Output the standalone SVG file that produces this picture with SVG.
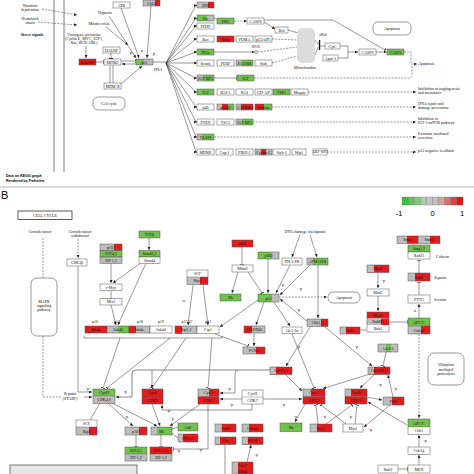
<svg xmlns="http://www.w3.org/2000/svg" width="474" height="474" viewBox="0 0 474 474">
<style>
.g{fill:#72c04e}.r{fill:#e41a1c}.y{fill:#bdbdbd}.w{fill:#fff}
.o{fill:none;stroke:#555;stroke-width:0.5}
.t{font-family:"Liberation Serif",serif;font-size:4px;text-anchor:middle;fill:#111}
.s{font-family:"Liberation Serif",serif;font-size:4px;fill:#111}
.e{fill:none;stroke:#333;stroke-width:0.5}
.d{stroke-dasharray:2,1.2}
.rb{fill:#fff;stroke:#555;stroke-width:0.6}
</style>
<defs>
<marker id="a" viewBox="0 0 6 6" refX="6" refY="3" markerWidth="3" markerHeight="3" orient="auto" markerUnits="userSpaceOnUse"><path d="M0,0L6,3L0,6z" fill="#222"/></marker>
<marker id="b" viewBox="0 0 2 8" refX="1" refY="4" markerWidth="1" markerHeight="4" orient="auto" markerUnits="userSpaceOnUse"><path d="M1,0V8" stroke="#222" stroke-width="2"/></marker>
</defs>
<rect width="474" height="474" fill="#fff"/>

<!-- ============ PANEL A ============ -->
<g id="frameA">
<line x1="54" y1="0" x2="54" y2="172" stroke="#444" stroke-width="0.7"/>
<line x1="64" y1="0" x2="64" y2="172" stroke="#444" stroke-width="0.7"/>
<line x1="0" y1="187" x2="474" y2="187" stroke="#999" stroke-width="0.7"/>
<text x="30" y="7" class="t">Nutrition</text><text x="30" y="11" class="t">deprivation</text>
<text x="30" y="20" class="t">Heatshock</text><text x="30" y="24" class="t">shock</text>
<text x="32" y="36" class="t" font-weight="bold">Stress signals</text>
<text x="105" y="14" class="t">Hypoxia</text>
<text x="99" y="25" class="t">Mitotic crisis</text>
<text x="84" y="36" class="t">Oncogene activation</text><text x="84" y="40" class="t">(Cyclin E, MYC, E2F1,</text><text x="84" y="44" class="t">Ras, BCR-ABL)</text>
<text x="158" y="71" class="t">DNA</text>
<text x="6" y="177" font-family="Liberation Sans,sans-serif" font-size="3.6" font-weight="bold">Data on KEGG graph</text>
<text x="6" y="181.5" font-family="Liberation Sans,sans-serif" font-size="3.6" font-weight="bold">Rendered by Pathview</text>
<text x="305" y="69" class="t">Mitochondria</text>
<text x="323" y="36" class="t">tBid</text>
<text x="256" y="48" class="t">ROS</text>
<text x="418" y="65" class="s">Apoptosis</text>
<text x="418" y="90" class="s">Inhibition of angiogenesis</text><text x="418" y="94" class="s">and metastasis</text>
<text x="418" y="105" class="s">DNA repair and</text><text x="418" y="109" class="s">damage prevention</text>
<text x="418" y="120" class="s">Inhibition of</text><text x="418" y="124" class="s">IGF-1/mTOR pathway</text>
<text x="418" y="135" class="s">Exosome mediated</text><text x="418" y="139" class="s">secretion</text>
<text x="418" y="152" class="s">p53 negative feedback</text>
<text x="130" y="54" class="t">+p</text><text x="141" y="52" class="t">+p</text><text x="153" y="55" class="t">+p</text>
</g>

<g id="connA">
<path class="e d" d="M42,9L77,15" marker-end="url(#a)"/>
<path class="e d" d="M38,22L77,25" marker-end="url(#a)"/>
<path class="e" d="M109,16L136,58" marker-end="url(#a)"/>
<path class="e" d="M106,27L128,45" marker-end="url(#a)"/>
<path class="e" d="M121,8L139,58" marker-end="url(#a)"/>
<path class="e" d="M151,6L147,58" marker-end="url(#a)"/>
<path class="e" d="M86,46V58" marker-end="url(#a)"/>
<path class="e" d="M96,62H103" marker-end="url(#b)"/>
<path class="e" d="M121,61H135" marker-end="url(#b)"/>
<path class="e" d="M136,64H122" marker-end="url(#a)"/>
<path class="e" d="M111,53V58.5" marker-end="url(#b)"/>
<path class="e" d="M110,83V65.5M113,83V65.5"/>
<path class="e" d="M121,84L142,66" marker-end="url(#a)"/>
<path class="e" d="M153,62H166"/>
<path class="e" d="M166,63L196,5M166,63L196,18M166,63L196,26M166,63L196,39M166,63L196,52M166,63L196,63M166,63L196,78M166,63L196,92M166,63L196,107M166,63L196,122M166,63L196,137M166,63L196,152" />
<g marker-end="url(#a)">
<path class="e" d="M195,5.5H197"/><path class="e" d="M195,18.3H197"/><path class="e" d="M195,26H197"/><path class="e" d="M195,39H197"/><path class="e" d="M195,52H197"/><path class="e" d="M195,63H197"/><path class="e" d="M195,78H197"/><path class="e" d="M195,92H197"/><path class="e" d="M195,107H197"/><path class="e" d="M195,122H197"/><path class="e" d="M195,137H197"/><path class="e" d="M195,152H197"/>
</g>
<path class="e" d="M214,18L217,20"/>
<path class="e d" d="M234,21H247" marker-end="url(#a)"/>
<path class="e" d="M264,20H333L385,50" marker-end="url(#b)"/>
<path class="e" d="M264,22L275,29" marker-end="url(#a)"/>
<path class="e" d="M288,30L298,33"/>
<path class="e d" d="M272,39L297,40"/>
<path class="e" d="M214,52H254.5" marker-end="url(#a)"/>
<path class="e d" d="M257.5,52L297,47"/>
<path class="e d" d="M272,63L297,56"/>
<path class="e" d="M315,40L318,44M315,55L318,47"/>
<path d="M319.5,40V50" stroke="#111" stroke-width="1.4"/>
<path class="e" d="M320,46H325"/>
<path class="e" d="M340,46H348V52H358" marker-end="url(#a)"/>
<path class="e" d="M338,58H348V52"/>
<path class="e" d="M376,52H386.5" marker-end="url(#a)"/>
<path class="e d" d="M404,52H411V64H417" marker-end="url(#a)"/>
<path class="e d" d="M254,78H409Q412,78 412,74V65"/>
<path class="e" d="M214,78H236" marker-end="url(#b)"/>
<path class="e d" d="M308,92H416" marker-end="url(#a)"/>
<path class="e d" d="M272,107H416" marker-end="url(#a)"/>
<path class="e d" d="M253,122H416" marker-end="url(#a)"/>
<path class="e d" d="M214,137H416" marker-end="url(#a)"/>
<path class="e d" d="M327,152H416" marker-end="url(#a)"/>
</g>

<g id="mito"><rect x="297" y="28" width="18" height="35" rx="5" fill="#dcdcdc"/></g>
<g id="n-chk2"><rect x="143" y="0" width="17" height="6" class="y"/><rect x="155" y="0" width="5" height="6" class="r"/><rect x="143" y="0" width="17" height="6" class="o"/><text x="151.5" y="4.5" class="t">Chk2</text></g>
<g id="n-atr"><rect x="113" y="2" width="17" height="6" class="w"/><rect x="113" y="2" width="17" height="6" class="o"/><text x="121.5" y="6.5" class="t">ATR</text></g>
<g id="n-hausp"><rect x="103" y="47" width="17" height="6" class="w"/><rect x="103" y="47" width="17" height="6" class="o"/><text x="111.5" y="51.5" class="t">HAUSP</text></g>
<g id="n-p14arf"><rect x="79" y="59" width="17" height="6" class="r"/><rect x="79" y="59" width="17" height="6" class="o"/><text x="87.5" y="63.5" class="t">p14ARF</text></g>
<g id="n-mdm2"><rect x="104" y="59" width="17" height="6" class="w"/><rect x="104" y="59" width="17" height="6" class="o"/><text x="112.5" y="63.5" class="t">MDM2</text></g>
<g id="n-p53"><rect x="136" y="59" width="17" height="6" class="y"/><rect x="136" y="59" width="8" height="6" class="g"/><rect x="136" y="59" width="17" height="6" class="o"/><text x="144.5" y="63.5" class="t">p53</text></g>
<g id="n-mdmx"><rect x="104" y="83" width="17" height="6" class="w"/><rect x="104" y="83" width="17" height="6" class="o"/><text x="112.5" y="87.5" class="t">MDM-X</text></g>
<g id="n-cellcycleA"><rect x="93" y="97" width="32" height="13" rx="5" class="rb"/><text x="109" y="105" class="t">Cell cycle</text></g>
<g id="n-apoptosisA"><rect x="373" y="22" width="38" height="13" rx="5" class="rb"/><text x="392" y="30" class="t">Apoptosis</text></g>

<g id="n-b99"><rect x="197" y="2" width="17" height="6" class="y"/><rect x="208" y="2" width="6" height="6" class="r"/><rect x="197" y="2" width="17" height="6" class="o"/><text x="205.5" y="6.5" class="t">B99</text></g>
<g id="n-fas"><rect x="197" y="15" width="17" height="6" class="y"/><rect x="197" y="15" width="10" height="6" class="g"/><rect x="197" y="15" width="17" height="6" class="o"/><text x="205.5" y="19.5" class="t">Fas</text></g>
<g id="n-pidd"><rect x="197" y="23" width="17" height="6" class="w"/><rect x="197" y="23" width="17" height="6" class="o"/><text x="205.5" y="27.5" class="t">PIDD</text></g>
<g id="n-dr5"><rect x="217" y="18" width="17" height="6" class="g"/><rect x="217" y="18" width="17" height="6" class="o"/><text x="225.5" y="22.5" class="t">DR5</text></g>
<g id="n-casp8"><rect x="247" y="18" width="17" height="6" class="w"/><rect x="247" y="18" width="17" height="6" class="o"/><text x="255.5" y="22.5" class="t">CASP8</text></g>
<g id="n-bid"><rect x="275" y="27" width="13" height="6" class="w"/><rect x="275" y="27" width="13" height="6" class="o"/><text x="281.5" y="31.5" class="t">Bid</text></g>
<g id="n-bax"><rect x="197" y="36" width="17" height="6" class="w"/><rect x="197" y="36" width="17" height="6" class="o"/><text x="205.5" y="40.5" class="t">Bax</text></g>
<g id="n-noxa"><rect x="217" y="36" width="17" height="6" class="r"/><rect x="217" y="36" width="17" height="6" class="o"/><text x="225.5" y="40.5" class="t">Noxa</text></g>
<g id="n-puma"><rect x="236" y="36" width="17" height="6" class="w"/><rect x="236" y="36" width="17" height="6" class="o"/><text x="244.5" y="40.5" class="t">PUMA</text></g>
<g id="n-p53aip1"><rect x="255" y="36" width="17" height="6" class="w"/><rect x="255" y="36" width="17" height="6" class="o"/><text x="263.5" y="40.5" class="t">p53AIP1</text></g>
<g id="n-pigs"><rect x="197" y="49" width="17" height="6" class="g"/><rect x="197" y="49" width="17" height="6" class="o"/><text x="205.5" y="53.5" class="t">PIGs</text></g>
<g id="n-ros"><circle cx="256" cy="52" r="1.5" fill="#fff" stroke="#333" stroke-width="0.5"/></g>
<g id="n-scotin"><rect x="197" y="60" width="17" height="6" class="w"/><rect x="197" y="60" width="17" height="6" class="o"/><text x="205.5" y="64.5" class="t">Scotin</text></g>
<g id="n-perp"><rect x="217" y="60" width="17" height="6" class="w"/><rect x="217" y="60" width="17" height="6" class="o"/><text x="225.5" y="64.5" class="t">PERP</text></g>
<g id="n-pag608"><rect x="236" y="60" width="17" height="6" class="g"/><rect x="236" y="60" width="6" height="6" class="y"/><rect x="236" y="60" width="17" height="6" class="o"/><text x="244.5" y="64.5" class="t">PAG608</text></g>
<g id="n-siah"><rect x="255" y="60" width="17" height="6" class="w"/><rect x="255" y="60" width="17" height="6" class="o"/><text x="263.5" y="64.5" class="t">Siah</text></g>
<g id="n-igfbp3"><rect x="197" y="75" width="17" height="6" class="g"/><rect x="197" y="75" width="6" height="6" class="y"/><rect x="197" y="75" width="17" height="6" class="o"/><text x="205.5" y="79.5" class="t">IGF-BP3</text></g>
<g id="n-igf"><rect x="237" y="75" width="17" height="6" class="g"/><rect x="237" y="75" width="17" height="6" class="o"/><text x="245.5" y="79.5" class="t">IGF</text></g>
<g id="n-pai"><rect x="197" y="89" width="17" height="6" class="g"/><rect x="197" y="89" width="17" height="6" class="o"/><text x="205.5" y="93.5" class="t">PAI</text></g>
<g id="n-bai1"><rect x="217" y="89" width="17" height="6" class="w"/><rect x="217" y="89" width="17" height="6" class="o"/><text x="225.5" y="93.5" class="t">BAI-1</text></g>
<g id="n-kai"><rect x="236" y="89" width="17" height="6" class="w"/><rect x="236" y="89" width="17" height="6" class="o"/><text x="244.5" y="93.5" class="t">KAI</text></g>
<g id="n-gdaif"><rect x="255" y="89" width="17" height="6" class="w"/><rect x="255" y="89" width="17" height="6" class="o"/><text x="263.5" y="93.5" class="t">GD-AiF</text></g>
<g id="n-tsp1"><rect x="273" y="89" width="17" height="6" class="g"/><rect x="273" y="89" width="17" height="6" class="o"/><text x="281.5" y="93.5" class="t">TSP1</text></g>
<g id="n-maspin"><rect x="291" y="89" width="17" height="6" class="w"/><rect x="291" y="89" width="17" height="6" class="o"/><text x="299.5" y="93.5" class="t">Maspin</text></g>
<g id="n-p48"><rect x="197" y="104" width="17" height="6" class="w"/><rect x="197" y="104" width="17" height="6" class="o"/><text x="205.5" y="108.5" class="t">p48</text></g>
<g id="n-p53r2"><rect x="217" y="104" width="17" height="6" class="y"/><rect x="222" y="104" width="6" height="6" class="r"/><rect x="228" y="104" width="6" height="6" class="g"/><rect x="217" y="104" width="17" height="6" class="o"/><text x="225.5" y="108.5" class="t">p53R2</text></g>
<g id="n-gadd45a"><rect x="236" y="104" width="17" height="6" class="r"/><rect x="236" y="104" width="5" height="6" class="y"/><rect x="236" y="104" width="17" height="6" class="o"/><text x="244.5" y="108.5" class="t">GADD45</text></g>
<g id="n-xpc"><rect x="255" y="104" width="17" height="6" class="g"/><rect x="255" y="104" width="9" height="6" class="r"/><rect x="255" y="104" width="17" height="6" class="o"/><text x="263.5" y="108.5" class="t">Sestrins</text></g>
<g id="n-pten"><rect x="197" y="119" width="17" height="6" class="w"/><rect x="197" y="119" width="17" height="6" class="o"/><text x="205.5" y="123.5" class="t">PTEN</text></g>
<g id="n-tsc2"><rect x="217" y="119" width="17" height="6" class="w"/><rect x="217" y="119" width="17" height="6" class="o"/><text x="225.5" y="123.5" class="t">TSC2</text></g>
<g id="n-igfbp3b"><rect x="236" y="119" width="17" height="6" class="g"/><rect x="236" y="119" width="6" height="6" class="y"/><rect x="236" y="119" width="17" height="6" class="o"/><text x="244.5" y="123.5" class="t">IGF-BP3</text></g>
<g id="n-tsap6"><rect x="197" y="134" width="17" height="6" class="g"/><rect x="197" y="134" width="5" height="6" class="y"/><rect x="197" y="134" width="17" height="6" class="o"/><text x="205.5" y="138.5" class="t">TSAP6</text></g>
<g id="n-mdm2b"><rect x="197" y="149" width="17" height="6" class="w"/><rect x="197" y="149" width="17" height="6" class="o"/><text x="205.5" y="153.5" class="t">MDM2</text></g>
<g id="n-cop1"><rect x="216" y="149" width="17" height="6" class="w"/><rect x="216" y="149" width="17" height="6" class="o"/><text x="224.5" y="153.5" class="t">Cop-1</text></g>
<g id="n-pirh2"><rect x="236" y="149" width="17" height="6" class="w"/><rect x="236" y="149" width="17" height="6" class="o"/><text x="244.5" y="153.5" class="t">PIRH-2</text></g>
<g id="n-cycg"><rect x="255" y="149" width="17" height="6" class="y"/><rect x="261" y="149" width="5" height="6" class="r"/><rect x="255" y="149" width="17" height="6" class="o"/><text x="263.5" y="153.5" class="t">Cyclin G</text></g>
<g id="n-siah1"><rect x="273" y="149" width="17" height="6" class="w"/><rect x="273" y="149" width="17" height="6" class="o"/><text x="281.5" y="153.5" class="t">Siah-1</text></g>
<g id="n-wip1"><rect x="292" y="149" width="14" height="6" class="w"/><rect x="292" y="149" width="14" height="6" class="o"/><text x="299" y="153.5" class="t">Wip1</text></g>
<g id="n-arfbp1"><rect x="313" y="149" width="14" height="6" class="w"/><rect x="313" y="149" width="14" height="6" class="o"/><text x="320" y="153.3" class="t" font-size="3.4">ARF-BP1</text></g>
<g id="n-cytc"><rect x="325" y="43" width="15" height="6" class="w"/><rect x="325" y="43" width="15" height="6" class="o"/><text x="332.5" y="47.5" class="t">CytC</text></g>
<g id="n-apaf1"><rect x="323" y="55" width="15" height="6" class="w"/><rect x="323" y="55" width="15" height="6" class="o"/><text x="330.5" y="59.5" class="t">Apaf-1</text></g>
<g id="n-casp9"><rect x="359" y="49" width="17" height="6" class="w"/><rect x="359" y="49" width="17" height="6" class="o"/><text x="367.5" y="53.5" class="t">CASP9</text></g>
<g id="n-casp3"><rect x="387" y="49" width="17" height="6" class="g"/><rect x="387" y="49" width="17" height="6" class="o"/><text x="395.5" y="53.5" class="t">CASP3</text></g>

<!-- ============ PANEL B ============ -->
<g id="frameB">
<text x="1" y="199" font-family="Liberation Sans,sans-serif" font-size="11">B</text>
<g id="n-cellcyclebox"><rect x="18" y="211" width="54" height="8.5" fill="#fff" stroke="#333" stroke-width="0.8"/><text x="45" y="217.3" class="t" font-size="5">CELL CYCLE</text></g>
<g id="colorbar" stroke="#666" stroke-width="0.3">
<rect x="402" y="197" width="6.1" height="8" fill="#3fbf3f"/><rect x="408.1" y="197" width="6.1" height="8" fill="#5cc45c"/><rect x="414.2" y="197" width="6.1" height="8" fill="#7dc87d"/><rect x="420.3" y="197" width="6.1" height="8" fill="#a6cfa6"/><rect x="426.4" y="197" width="6.1" height="8" fill="#c4c4c4"/><rect x="432.5" y="197" width="6.1" height="8" fill="#bfbfbf"/><rect x="438.6" y="197" width="6.1" height="8" fill="#d5a3a3"/><rect x="444.7" y="197" width="6.1" height="8" fill="#dc7070"/><rect x="450.8" y="197" width="6.1" height="8" fill="#e34242"/><rect x="456.9" y="197" width="6.1" height="8" fill="#e81515"/>
</g>
<text x="399" y="216" font-family="Liberation Sans,sans-serif" font-size="7.5" text-anchor="middle">-1</text>
<text x="432.5" y="216" font-family="Liberation Sans,sans-serif" font-size="7.5" text-anchor="middle">0</text>
<text x="462" y="216" font-family="Liberation Sans,sans-serif" font-size="7.5" text-anchor="middle">1</text>
<text x="40" y="233" class="t">Growth factor</text>
<text x="80" y="233" class="t">Growth factor</text><text x="80" y="237" class="t">withdrawal</text>
<text x="305" y="233" class="t">DNA damage checkpoint</text>
<text x="70" y="395" class="t">R-point</text><text x="70" y="399.5" class="t">(START)</text>
<text x="95" y="323" class="t">p16</text><text x="117" y="323" class="t">p15</text><text x="140" y="323" class="t">p18</text><text x="161" y="323" class="t">p19</text>
<text x="187" y="323" class="t">p27,57</text><text x="208" y="323" class="t">p21</text>
<text x="436" y="257.5" class="s">Cohesin</text>
<text x="434" y="279" class="s">Separin</text>
<text x="434" y="301" class="s">Securin</text>
<g class="t">
<text x="87" y="390">+p</text><text x="183" y="302">+u</text><text x="282" y="286">+p</text><text x="300" y="290">+p</text><text x="298" y="311">+p</text>
<text x="383" y="282">+p</text><text x="414" y="312">+u</text><text x="298" y="348">+p</text><text x="356" y="348">+p</text>
<text x="229" y="390">-p</text><text x="125" y="393">-p</text><text x="231" y="406">+p</text><text x="283" y="406">+p</text>
<text x="126" y="418">+p</text><text x="168" y="412">+p</text><text x="172" y="420">+p</text><text x="295" y="418">+p</text>
<text x="324" y="418">+p</text><text x="350" y="418">+p</text><text x="370" y="431">+p</text><text x="380" y="386">-p</text><text x="395" y="390">+p</text>
<text x="425" y="442">-p</text><text x="178" y="452">+p</text><text x="256" y="456">+p</text><text x="200" y="451">+p</text>
</g>
</g>

<g id="connB">
<path class="e d" d="M43,238V278"/>
<path class="e d" d="M43,336V397H62"/>
<path class="e" d="M84,397H92" marker-end="url(#a)"/>
<path class="e d" d="M78,239V258" marker-end="url(#a)"/>
<path class="e" d="M78,266V392H92" marker-end="url(#a)"/>
<path class="e" d="M149,238V250" marker-end="url(#a)"/>
<path class="e" d="M142,262L113,283" marker-end="url(#a)"/>
<path class="e" d="M146,263L118,325" marker-end="url(#a)"/>
<path class="e" d="M111,264V283" marker-end="url(#a)"/>
<path class="e" d="M111,290V298" marker-end="url(#b)"/>
<path class="e" d="M111,305L116,325" marker-end="url(#a)"/>
<path class="e" d="M84,336V338H222V336"/>
<path class="e" d="M120,338L103,388" marker-end="url(#b)"/>
<path class="e" d="M170,338L107,388" marker-end="url(#b)"/>
<path class="e" d="M186,338L152,388" marker-end="url(#b)"/>
<path class="e" d="M212,338L208,388" marker-end="url(#b)"/>
<path class="e" d="M193,285L188,325" marker-end="url(#a)"/>
<path class="e" d="M203,285L208,325" marker-end="url(#a)"/>
<path class="e" d="M258,300L220,327" marker-end="url(#a)"/>
<path class="e" d="M242,247V264" marker-end="url(#b)"/>
<path class="e" d="M238,272L232,293" marker-end="url(#a)"/>
<path class="e" d="M248,272L262,293" marker-end="url(#b)"/>
<path class="e" d="M268,259V293" marker-end="url(#a)"/>
<path class="e" d="M290,265L276,293" marker-end="url(#a)"/>
<path class="e" d="M310,265L280,295" marker-end="url(#a)"/>
<path class="e" d="M307,321L280,299" marker-end="url(#a)"/>
<path class="e" d="M318,265V318" marker-end="url(#a)"/>
<path class="e" d="M300,235L292,257" marker-end="url(#a)"/>
<path class="e" d="M310,235L317,257" marker-end="url(#a)"/>
<path class="e d" d="M279,297H327" marker-end="url(#a)"/>
<path class="e" d="M264,302L256,325" marker-end="url(#a)"/>
<path class="e" d="M274,302L290,326" marker-end="url(#a)"/>
<path class="e" d="M310,327L286,366" marker-end="url(#a)"/>
<path class="e" d="M325,327L372,366" marker-end="url(#a)"/>
<path class="e" d="M254,333V346" marker-end="url(#a)"/>
<path class="e" d="M292,334L314,388" marker-end="url(#b)"/>
<path class="e" d="M386,352L383,366" marker-end="url(#b)"/>
<path class="e" d="M375,374L360,388" marker-end="url(#a)"/>
<path class="e" d="M370,374L323,388.5" marker-end="url(#a)"/>
<path class="e" d="M393,397L388,375" marker-end="url(#a)"/>
<path class="e" d="M367,397L382,400" marker-end="url(#a)"/>
<path d="M270,370H136Q132,370 132,374V397H116" fill="none" stroke="#777" stroke-width="0.9" marker-end="url(#a)"/>
<path class="e" d="M238,370Q235,370 235,374V393H220" marker-end="url(#a)"/>
<path class="e" d="M152,370V388" marker-end="url(#a)"/>
<path class="e" d="M285,374L302,391" marker-end="url(#a)"/>
<path class="e" d="M242,399H220" marker-end="url(#a)"/>
<path class="e" d="M263,399H302" marker-end="url(#a)"/>
<path class="e" d="M252,404V410H162V405" marker-end="url(#a)"/>
<path class="e" d="M108,403L133,426" marker-end="url(#a)"/>
<path class="e" d="M112,403L157,426" marker-end="url(#a)"/>
<path class="e" d="M152,404L160,426" marker-end="url(#a)"/>
<path class="e" d="M200,404L170,426" marker-end="url(#a)"/>
<path class="e" d="M100,403L90,420"/>
<path class="e" d="M136,435V446" marker-end="url(#b)"/>
<path class="e" d="M161,435V446" marker-end="url(#b)"/>
<path class="e" d="M172,429L178,427M172,433L178,438"/>
<path class="e" d="M208,404V449H173" marker-end="url(#b)"/>
<path class="e" d="M247,462L251,445" marker-end="url(#a)"/>
<path class="e" d="M225,444V474"/>
<path class="e" d="M215,334L248,346" marker-end="url(#b)"/>
<path class="e" d="M318,424L316,405" marker-end="url(#b)"/>
<path class="e" d="M326,424L352,405" marker-end="url(#b)"/>
<path class="e" d="M346,424L321,405" marker-end="url(#b)"/>
<path class="e" d="M355,424L357,405" marker-end="url(#b)"/>
<path class="e" d="M305,404L295,422" marker-end="url(#a)"/>
<path class="e" d="M407,425L368,402" marker-end="url(#a)"/>
<path class="e" d="M390,405L364,427" marker-end="url(#a)"/>
<path class="e" d="M419,447V435" marker-end="url(#a)"/>
<path class="e" d="M419,465V455" marker-end="url(#a)"/>
<path class="e" d="M398,469H407" marker-end="url(#b)"/>
<path class="e d" d="M419,334V418" marker-end="url(#a)"/>
<path class="e" d="M389,322H407" marker-end="url(#b)"/>
<path class="e" d="M360,330H366"/>
<path class="e" d="M378,273V288" marker-end="url(#a)"/>
<path class="e" d="M378,296V311" marker-end="url(#a)"/>
<path class="e" d="M419,318V304" marker-end="url(#a)"/>
<path class="e" d="M419,295V282" marker-end="url(#b)"/>
<path class="e" d="M419,273V260" marker-end="url(#b)"/>
</g>

<g id="n-mapk"><rect x="31" y="278" width="26" height="58" rx="6" class="rb"/><text x="44" y="303" class="t">MAPK</text><text x="44" y="307" class="t">signaling</text><text x="44" y="311" class="t">pathway</text></g>
<g id="n-gsk3b"><rect x="67" y="259" width="20" height="7" class="w"/><rect x="67" y="259" width="20" height="7" class="o"/><text x="77" y="264" class="t">GSK3β</text></g>
<g id="n-p107a"><rect x="100" y="244" width="22" height="6.5" class="y"/><rect x="114" y="244" width="8" height="6.5" class="r"/><rect x="100" y="244" width="22" height="6.5" class="o"/><text x="111" y="248.8" class="t">p107</text></g>
<g id="n-e2f45a"><rect x="100" y="250.5" width="22" height="6.5" class="g"/><rect x="100" y="250.5" width="22" height="6.5" class="o"/><text x="111" y="255.3" class="t">E2F4,5</text></g>
<g id="n-dp12a"><rect x="100" y="257" width="22" height="6.5" class="y"/><rect x="100" y="257" width="22" height="6.5" class="o"/><text x="111" y="261.8" class="t">DP-1,2</text></g>
<g id="n-tgfb"><rect x="139" y="231" width="21" height="7" class="g"/><rect x="139" y="231" width="21" height="7" class="o"/><text x="149.5" y="236" class="t">TGFβ</text></g>
<g id="n-smad23"><rect x="139" y="250.5" width="21" height="6.5" class="g"/><rect x="139" y="250.5" width="21" height="6.5" class="o"/><text x="149.5" y="255.3" class="t">Smad2,3</text></g>
<g id="n-smad4"><rect x="139" y="257" width="21" height="6.5" class="w"/><rect x="139" y="257" width="21" height="6.5" class="o"/><text x="149.5" y="261.8" class="t">Smad4</text></g>
<g id="n-cmyc"><rect x="100" y="284" width="22" height="6.5" class="w"/><rect x="100" y="284" width="22" height="6.5" class="o"/><text x="111" y="288.8" class="t">c-Myc</text></g>
<g id="n-miz1"><rect x="100" y="298.5" width="22" height="6.5" class="w"/><rect x="100" y="298.5" width="22" height="6.5" class="o"/><text x="111" y="303.3" class="t">Miz1</text></g>
<g id="n-ink4a"><rect x="85" y="326" width="22" height="7" class="r"/><rect x="85" y="326" width="22" height="7" class="o"/><text x="96" y="331" class="t">Ink4a</text></g>
<g id="n-ink4b"><rect x="107" y="326" width="22" height="7" class="y"/><rect x="118" y="326" width="11" height="7" class="g"/><rect x="107" y="326" width="22" height="7" class="o"/><text x="118" y="331" class="t">Ink4b</text></g>
<g id="n-ink4c"><rect x="129" y="326" width="21" height="7" class="y"/><rect x="129" y="326" width="7" height="7" class="r"/><rect x="129" y="326" width="21" height="7" class="o"/><text x="139.5" y="331" class="t">Ink4c</text></g>
<g id="n-ink4d"><rect x="150" y="326" width="22" height="7" class="w"/><rect x="150" y="326" width="22" height="7" class="o"/><text x="161" y="331" class="t">Ink4d</text></g>
<g id="n-kip12"><rect x="175" y="326" width="22" height="7.5" class="y"/><rect x="175" y="326" width="7" height="7.5" class="r"/><rect x="175" y="326" width="22" height="7.5" class="o"/><text x="186" y="331.2" class="t">Kip1,2</text></g>
<g id="n-cip1"><rect x="197" y="326" width="22" height="7.5" class="w"/><rect x="197" y="326" width="22" height="7.5" class="o"/><text x="208" y="331.2" class="t">Cip1</text></g>
<g id="n-scf1"><rect x="187" y="270" width="21" height="7" class="w"/><rect x="187" y="277" width="21" height="7.5" class="y"/><rect x="200" y="277" width="8" height="7.5" class="r"/><rect x="187" y="270" width="21" height="14.5" class="o"/><line x1="187" y1="277" x2="208" y2="277" stroke="#555" stroke-width="0.4"/><text x="197.5" y="275" class="t">SCF</text><text x="197.5" y="282.2" class="t">Skp2</text></g>
<g id="n-arf"><rect x="232" y="240" width="21" height="7" class="r"/><rect x="232" y="240" width="21" height="7" class="o"/><text x="242.5" y="245" class="t">ARF</text></g>
<g id="n-mdm2c"><rect x="232" y="265" width="21" height="7" class="w"/><rect x="232" y="265" width="21" height="7" class="o"/><text x="242.5" y="270" class="t">Mdm2</text></g>
<g id="n-rb1"><rect x="220" y="294" width="21" height="7" class="g"/><rect x="220" y="294" width="21" height="7" class="o"/><text x="230.5" y="299" class="t">Rb</text></g>
<g id="n-p300"><rect x="258" y="252" width="21" height="7" class="g"/><rect x="272" y="252" width="7" height="7" class="y"/><rect x="258" y="252" width="21" height="7" class="o"/><text x="268.5" y="257" class="t">p300</text></g>
<g id="n-p53b"><rect x="258" y="294" width="21" height="8" class="g"/><rect x="272" y="294" width="7" height="8" class="y"/><rect x="258" y="294" width="21" height="8" class="o"/><text x="268.5" y="299.5" class="t">p53</text></g>
<g id="n-dnapk"><rect x="282" y="258" width="20" height="7" class="w"/><rect x="282" y="258" width="20" height="7" class="o"/><text x="292" y="263" class="t">DNA-PK</text></g>
<g id="n-atm"><rect x="307" y="258" width="21" height="7" class="g"/><rect x="307" y="258" width="6" height="7" class="y"/><rect x="307" y="258" width="21" height="7" class="o"/><text x="317.5" y="263" class="t">ATM/ATR</text></g>
<g id="n-gadd45b"><rect x="244" y="326" width="21" height="7" class="y"/><rect x="244" y="326" width="8" height="7" class="r"/><rect x="244" y="326" width="21" height="7" class="o"/><text x="254.5" y="331" class="t">GADD45</text></g>
<g id="n-1433s"><rect x="282" y="327" width="20" height="6.5" class="w"/><rect x="282" y="327" width="20" height="6.5" class="o"/><text x="292" y="331.8" class="t">14-3-3σ</text></g>
<g id="n-chk12"><rect x="307" y="319" width="21" height="7.5" class="y"/><rect x="321" y="319" width="7" height="7.5" class="r"/><rect x="307" y="319" width="21" height="7.5" class="o"/><text x="317.5" y="324.2" class="t">Chk1,2</text></g>
<g id="n-apoptosisB"><rect x="328" y="292" width="32" height="11" rx="5" class="rb"/><text x="344" y="299" class="t">Apoptosis</text></g>
<g id="n-smc1"><rect x="397" y="236" width="21" height="7.5" class="y"/><rect x="407" y="236" width="11" height="7.5" class="r"/><rect x="397" y="236" width="21" height="7.5" class="o"/><text x="407.5" y="241.2" class="t">Smc1</text></g>
<g id="n-smc3"><rect x="418" y="236" width="22" height="7.5" class="y"/><rect x="430" y="236" width="10" height="7.5" class="r"/><rect x="418" y="236" width="22" height="7.5" class="o"/><text x="429" y="241.2" class="t">Smc3</text></g>
<g id="n-stag"><rect x="408" y="245" width="22" height="7" class="g"/><rect x="408" y="245" width="22" height="7" class="o"/><text x="419" y="250" class="t">Stag1,2</text></g>
<g id="n-rad21"><rect x="408" y="252" width="22" height="7" class="w"/><rect x="408" y="252" width="22" height="7" class="o"/><text x="419" y="257" class="t">Rad21</text></g>
<g id="n-esp1"><rect x="408" y="273" width="22" height="8" class="r"/><rect x="408" y="273" width="7" height="8" class="y"/><rect x="408" y="273" width="22" height="8" class="o"/><text x="419" y="278.5" class="t">Esp1</text></g>
<g id="n-pttg"><rect x="408" y="295" width="22" height="8" class="w"/><rect x="408" y="295" width="22" height="8" class="o"/><text x="419" y="300.5" class="t">PTTG</text></g>
<g id="n-apcc1"><rect x="408" y="318" width="22" height="8" class="g"/><rect x="408" y="326" width="22" height="8" class="y"/><rect x="421" y="326" width="9" height="8" class="r"/><rect x="408" y="318" width="22" height="16" class="o"/><line x1="408" y1="326" x2="430" y2="326" stroke="#555" stroke-width="0.4"/><text x="419" y="323.5" class="t">APC/C</text><text x="419" y="331.5" class="t">Cdc20</text></g>
<g id="n-mps1"><rect x="367" y="265" width="22" height="7.5" class="r"/><rect x="367" y="265" width="7" height="7.5" class="y"/><rect x="367" y="265" width="22" height="7.5" class="o"/><text x="378" y="270.2" class="t">Mps1</text></g>
<g id="n-mad1"><rect x="367" y="289" width="22" height="7" class="w"/><rect x="367" y="289" width="22" height="7" class="o"/><text x="378" y="294" class="t">Mad1</text></g>
<g id="n-mad2"><rect x="367" y="312" width="22" height="6.5" class="r"/><rect x="367" y="318.5" width="22" height="6.5" class="y"/><rect x="381" y="318.5" width="8" height="6.5" class="r"/><rect x="367" y="325" width="22" height="7" class="w"/><rect x="367" y="312" width="22" height="20" class="o"/><text x="378" y="316.8" class="t">Mad2</text><text x="378" y="323.3" class="t">BubR1</text><text x="378" y="330" class="t">Bub3</text></g>
<g id="n-bub1"><rect x="340" y="327" width="20" height="7" class="r"/><rect x="340" y="327" width="6" height="7" class="y"/><rect x="340" y="327" width="20" height="7" class="o"/><text x="350" y="332" class="t">Bub1</text></g>
<g id="n-cycd"><rect x="93" y="389" width="22" height="7" class="g"/><rect x="93" y="396" width="22" height="7.5" class="y"/><rect x="93" y="389" width="22" height="14.5" class="o"/><line x1="93" y1="396" x2="115" y2="396" stroke="#555" stroke-width="0.4"/><text x="104" y="394" class="t">CycD</text><text x="104" y="401.2" class="t">CDK4,6</text></g>
<g id="n-cyce"><rect x="142" y="389" width="21" height="15" class="r"/><rect x="142" y="389" width="21" height="15" class="o"/><line x1="142" y1="396.5" x2="163" y2="396.5" stroke="#555" stroke-width="0.4"/><text x="152.5" y="394.2" class="t">CycE</text><text x="152.5" y="401.7" class="t">CDK2</text></g>
<g id="n-scf2"><rect x="76" y="420" width="21" height="7" class="w"/><rect x="76" y="427" width="21" height="8" class="y"/><rect x="89" y="427" width="8" height="8" class="r"/><rect x="76" y="420" width="21" height="15" class="o"/><line x1="76" y1="427" x2="97" y2="427" stroke="#555" stroke-width="0.4"/><text x="86.5" y="425" class="t">SCF</text><text x="86.5" y="432.5" class="t">Skp2</text></g>
<g id="n-p107b"><rect x="125" y="427" width="22" height="8" class="y"/><rect x="139" y="427" width="8" height="8" class="r"/><rect x="125" y="427" width="22" height="8" class="o"/><text x="136" y="432.5" class="t">p107</text></g>
<g id="n-rb2"><rect x="151" y="427" width="21" height="8" class="g"/><rect x="151" y="427" width="6" height="8" class="y"/><rect x="151" y="427" width="21" height="8" class="o"/><text x="161.5" y="432.5" class="t">Rb</text></g>
<g id="n-e2f45b"><rect x="125" y="447" width="22" height="7" class="g"/><rect x="125" y="454" width="22" height="7" class="y"/><rect x="125" y="447" width="22" height="14" class="o"/><line x1="125" y1="454" x2="147" y2="454" stroke="#555" stroke-width="0.4"/><text x="136" y="452" class="t">E2F4,5</text><text x="136" y="459" class="t">DP-1,2</text></g>
<g id="n-e2f123"><rect x="150" y="447" width="22" height="7" class="r"/><rect x="150" y="454" width="22" height="7" class="y"/><rect x="150" y="447" width="22" height="14" class="o"/><line x1="150" y1="454" x2="172" y2="454" stroke="#555" stroke-width="0.4"/><text x="161" y="452" class="t">E2F1,2,3</text><text x="161" y="459" class="t">DP-1,2</text></g>
<g id="n-abl"><rect x="178" y="423" width="20" height="8" class="g"/><rect x="178" y="423" width="20" height="8" class="o"/><text x="188" y="428.5" class="t">Abl</text></g>
<g id="n-hdac"><rect x="178" y="434" width="20" height="8" class="r"/><rect x="178" y="434" width="5" height="8" class="y"/><rect x="178" y="434" width="20" height="8" class="o"/><text x="188" y="439.5" class="t">HDAC</text></g>
<g id="n-pcna"><rect x="243" y="347" width="22" height="7" class="y"/><rect x="256" y="347" width="9" height="7" class="r"/><rect x="243" y="347" width="22" height="7" class="o"/><text x="254" y="352" class="t">PCNA</text></g>
<g id="n-cdc25a"><rect x="270" y="367" width="22" height="7.5" class="r"/><rect x="270" y="367" width="6" height="7.5" class="y"/><rect x="270" y="367" width="22" height="7.5" class="o"/><text x="281" y="372.2" class="t">Cdc25A</text></g>
<g id="n-cyca1"><rect x="198" y="389" width="21" height="7.5" class="y"/><rect x="209" y="389" width="10" height="7.5" class="r"/><rect x="198" y="396.5" width="21" height="7.5" class="r"/><rect x="198" y="389" width="21" height="15" class="o"/><line x1="198" y1="396.5" x2="219" y2="396.5" stroke="#555" stroke-width="0.4"/><text x="208.5" y="394.2" class="t">CycA</text><text x="208.5" y="401.7" class="t">CDK2</text></g>
<g id="n-cych"><rect x="242" y="390" width="21" height="14" class="w"/><rect x="242" y="390" width="21" height="14" class="o"/><line x1="242" y1="397" x2="263" y2="397" stroke="#555" stroke-width="0.4"/><text x="252.5" y="395" class="t">CycH</text><text x="252.5" y="402" class="t">CDK7</text></g>
<g id="n-cyca2"><rect x="303" y="389" width="22" height="7.5" class="y"/><rect x="311" y="389" width="14" height="7.5" class="r"/><rect x="303" y="396.5" width="22" height="7.5" class="r"/><rect x="303" y="389" width="22" height="15" class="o"/><line x1="303" y1="396.5" x2="325" y2="396.5" stroke="#555" stroke-width="0.4"/><text x="314" y="394.2" class="t">CycA</text><text x="314" y="401.7" class="t">CDC2</text></g>
<g id="n-cycb"><rect x="345" y="389" width="22" height="7.5" class="r"/><rect x="345" y="389" width="6" height="7.5" class="y"/><rect x="345" y="396.5" width="22" height="7.5" class="r"/><rect x="345" y="389" width="22" height="15" class="o"/><line x1="345" y1="396.5" x2="367" y2="396.5" stroke="#555" stroke-width="0.4"/><text x="356" y="394.2" class="t">CycB</text><text x="356" y="401.7" class="t">CDC2</text></g>
<g id="n-1433"><rect x="378" y="344" width="20" height="8" class="y"/><rect x="386" y="344" width="5" height="8" class="g"/><rect x="378" y="344" width="20" height="8" class="o"/><text x="388" y="349.5" class="t">14-3-3</text></g>
<g id="n-cdc25bc"><rect x="368" y="367" width="22" height="7.5" class="r"/><rect x="368" y="367" width="6" height="7.5" class="y"/><rect x="368" y="367" width="22" height="7.5" class="o"/><text x="379" y="372.2" class="t">Cdc25B,C</text></g>
<g id="n-plk1"><rect x="383" y="397" width="21" height="8" class="r"/><rect x="383" y="397" width="9" height="8" class="y"/><rect x="383" y="397" width="21" height="8" class="o"/><text x="393.5" y="402.5" class="t">Plk1</text></g>
<g id="n-ubiq"><rect x="428" y="353" width="36" height="32" rx="6" class="rb"/><text x="446" y="366" class="t">Ubiquitin</text><text x="446" y="370.5" class="t">mediated</text><text x="446" y="375" class="t">proteolysis</text></g>
<g id="n-wee1"><rect x="310" y="424" width="22" height="8" class="r"/><rect x="310" y="424" width="7" height="8" class="y"/><rect x="310" y="424" width="22" height="8" class="o"/><text x="321" y="429.5" class="t">Wee1</text></g>
<g id="n-myt1"><rect x="343" y="424" width="20" height="8" class="w"/><rect x="343" y="424" width="20" height="8" class="o"/><text x="353" y="429.5" class="t">Myt1</text></g>
<g id="n-rb3"><rect x="280" y="423" width="22" height="8.5" class="g"/><rect x="280" y="423" width="22" height="8.5" class="o"/><text x="291" y="428.8" class="t">Rb</text></g>
<g id="n-cdc6"><rect x="215" y="424" width="21" height="8" class="r"/><rect x="215" y="424" width="7" height="8" class="y"/><rect x="215" y="424" width="21" height="8" class="o"/><text x="225.5" y="429.5" class="t">Cdc6</text></g>
<g id="n-cdc45"><rect x="242" y="424" width="21" height="8" class="r"/><rect x="242" y="424" width="7" height="8" class="y"/><rect x="242" y="424" width="21" height="8" class="o"/><text x="252.5" y="429.5" class="t">Cdc45</text></g>
<g id="n-orc"><rect x="215" y="437" width="21" height="7.5" class="r"/><rect x="215" y="437" width="5" height="7.5" class="y"/><rect x="215" y="437" width="21" height="7.5" class="o"/><text x="225.5" y="442.2" class="t">Orc</text></g>
<g id="n-mcm"><rect x="242" y="437" width="21" height="7.5" class="r"/><rect x="242" y="437" width="6" height="7.5" class="y"/><rect x="242" y="437" width="21" height="7.5" class="o"/><text x="252.5" y="442.2" class="t">MCM</text></g>
<g id="n-cdc7"><rect x="232" y="462" width="21" height="6" class="r"/><rect x="232" y="462" width="6" height="6" class="y"/><rect x="232" y="468" width="21" height="6" class="r"/><rect x="232" y="468" width="6" height="6" class="y"/><rect x="232" y="462" width="21" height="12" class="o"/><text x="242.5" y="466.5" class="t">Cdc7</text><text x="242.5" y="472.5" class="t">Dbf4</text></g>
<g id="n-apcc2"><rect x="408" y="419" width="22" height="8" class="g"/><rect x="408" y="427" width="22" height="7.5" class="w"/><rect x="408" y="419" width="22" height="15.5" class="o"/><line x1="408" y1="427" x2="430" y2="427" stroke="#555" stroke-width="0.4"/><text x="419" y="424.5" class="t">APC/C</text><text x="419" y="432.2" class="t">Cdh1</text></g>
<g id="n-cdc14"><rect x="408" y="447" width="22" height="7.5" class="w"/><rect x="408" y="447" width="22" height="7.5" class="o"/><text x="419" y="452.2" class="t">Cdc14</text></g>
<g id="n-men"><rect x="408" y="465" width="22" height="8" class="w"/><rect x="408" y="465" width="22" height="8" class="o"/><text x="419" y="470.5" class="t">MEN</text></g>
<g id="n-bub2"><rect x="378" y="465" width="20" height="8" class="w"/><rect x="378" y="465" width="20" height="8" class="o"/><text x="388" y="470.5" class="t">Bub2</text></g>
<g id="n-bottombox"><rect x="10" y="465" width="127" height="12" fill="#e6e6e6" stroke="#444" stroke-width="0.7"/></g>
</svg>
